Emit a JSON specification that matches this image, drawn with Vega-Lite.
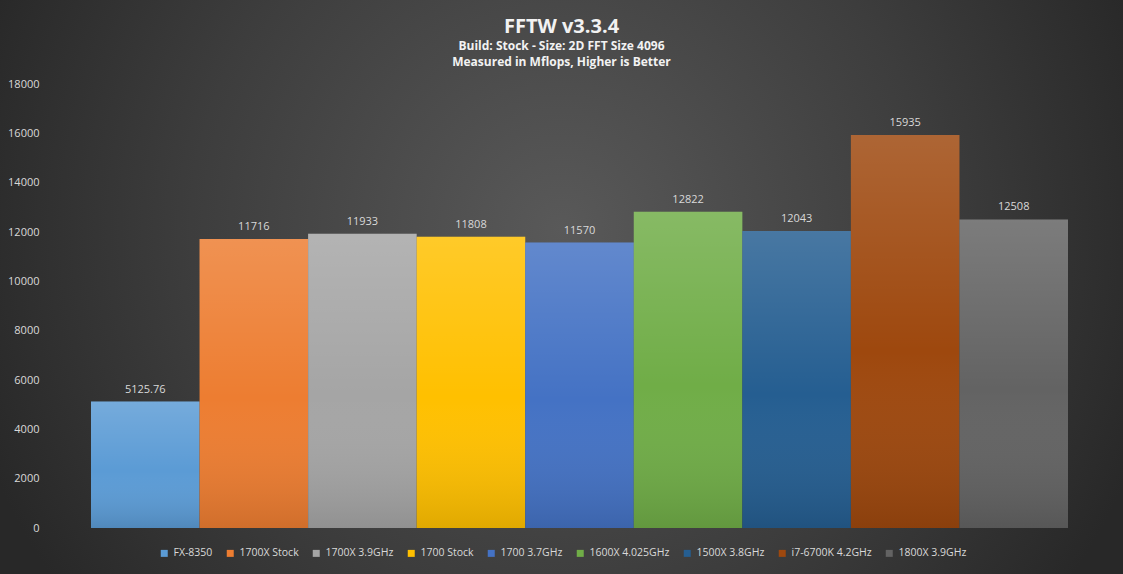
{
  "$schema": "https://vega.github.io/schema/vega-lite/v6.json",
  "description": "FFTW v3.3.4 2D FFT size 4096, Mflops by CPU.",
  "width": 1123,
  "height": 574,
  "autosize": {"type": "none"},
  "padding": 0,
  "background": "#333333",
  "view": {
    "stroke": null,
    "fill": {
      "gradient": "radial",
      "x1": 0.5, "y1": 0.449, "r1": 0,
      "x2": 0.5, "y2": 0.449, "r2": 0.55,
      "stops": [
        {"offset": 0, "color": "#595959"},
        {"offset": 0.6, "color": "#3d3d3d"},
        {"offset": 1, "color": "#282828"}
      ]
    }
  },
  "title": {
    "text": "FFTW v3.3.4",
    "subtitle": ["Build: Stock - Size: 2D FFT Size 4096", "Measured in Mflops, Higher is Better"],
    "anchor": "middle",
    "offset": -68,
    "font": "Open Sans",
    "fontSize": 20,
    "fontWeight": "bold",
    "color": "#f2f2f2",
    "subtitleFont": "Open Sans",
    "subtitleFontSize": 12,
    "subtitleFontWeight": "bold",
    "subtitleColor": "#f2f2f2",
    "subtitlePadding": 4,
    "subtitleLineHeight": 16
  },
  "data": {
    "values": [
      {"cpu": "FX-8350", "value": 5125.76},
      {"cpu": "1700X Stock", "value": 11716},
      {"cpu": "1700X 3.9GHz", "value": 11933},
      {"cpu": "1700 Stock", "value": 11808},
      {"cpu": "1700 3.7GHz", "value": 11570},
      {"cpu": "1600X 4.025GHz", "value": 12822},
      {"cpu": "1500X 3.8GHz", "value": 12043},
      {"cpu": "i7-6700K 4.2GHz", "value": 15935},
      {"cpu": "1800X 3.9GHz", "value": 12508}
    ]
  },
  "encoding": {
    "x": {
      "field": "cpu",
      "type": "nominal",
      "sort": null,
      "scale": {"range": [91, 1068], "paddingInner": 0, "paddingOuter": 0},
      "axis": null
    },
    "y": {
      "field": "value",
      "type": "quantitative",
      "scale": {"domain": [0, 18000], "range": [528, 84], "nice": false},
      "axis": {
        "values": [0, 2000, 4000, 6000, 8000, 10000, 12000, 14000, 16000, 18000],
        "format": "d",
        "domain": false,
        "ticks": false,
        "grid": false,
        "labelPadding": 0,
        "offset": -39,
        "labelColor": "#d9d9d9",
        "labelFont": "Open Sans",
        "labelFontSize": 11,
        "title": null
      }
    }
  },
  "layer": [
    {
      "mark": {"type": "bar"},
      "encoding": {
        "color": {
          "field": "cpu",
          "type": "nominal",
          "scale": {
            "domain": ["FX-8350", "1700X Stock", "1700X 3.9GHz", "1700 Stock", "1700 3.7GHz", "1600X 4.025GHz", "1500X 3.8GHz", "i7-6700K 4.2GHz", "1800X 3.9GHz"],
            "range": ["#5b9bd5", "#ed7d31", "#a5a5a5", "#ffc000", "#4472c4", "#70ad47", "#255e91", "#9e480e", "#636363"]
          },
          "legend": {
            "orient": "none",
            "legendX": 159,
            "legendY": 548,
            "direction": "horizontal",
            "columns": 9,
            "title": null,
            "padding": 0,
            "symbolType": "square",
            "symbolSize": 49,
            "symbolStrokeWidth": 0,
            "labelColor": "#d9d9d9",
            "labelFont": "Open Sans",
            "labelFontSize": 10.5,
            "labelOffset": 4,
            "columnPadding": 12
          }
        }
      }
    },
    {
      "mark": {
        "type": "bar",
        "fill": {
          "gradient": "linear",
          "x1": 0, "y1": 0, "x2": 0, "y2": 1,
          "stops": [
            {"offset": 0, "color": "rgba(255,255,255,0.16)"},
            {"offset": 0.55, "color": "rgba(255,255,255,0)"},
            {"offset": 1, "color": "rgba(0,0,0,0.12)"}
          ]
        }
      }
    },
    {
      "mark": {
        "type": "text",
        "align": "center",
        "baseline": "alphabetic",
        "dy": -9,
        "color": "#d9d9d9",
        "font": "Open Sans",
        "fontSize": 11
      },
      "encoding": {
        "text": {"field": "value", "type": "nominal"}
      }
    }
  ]
}
